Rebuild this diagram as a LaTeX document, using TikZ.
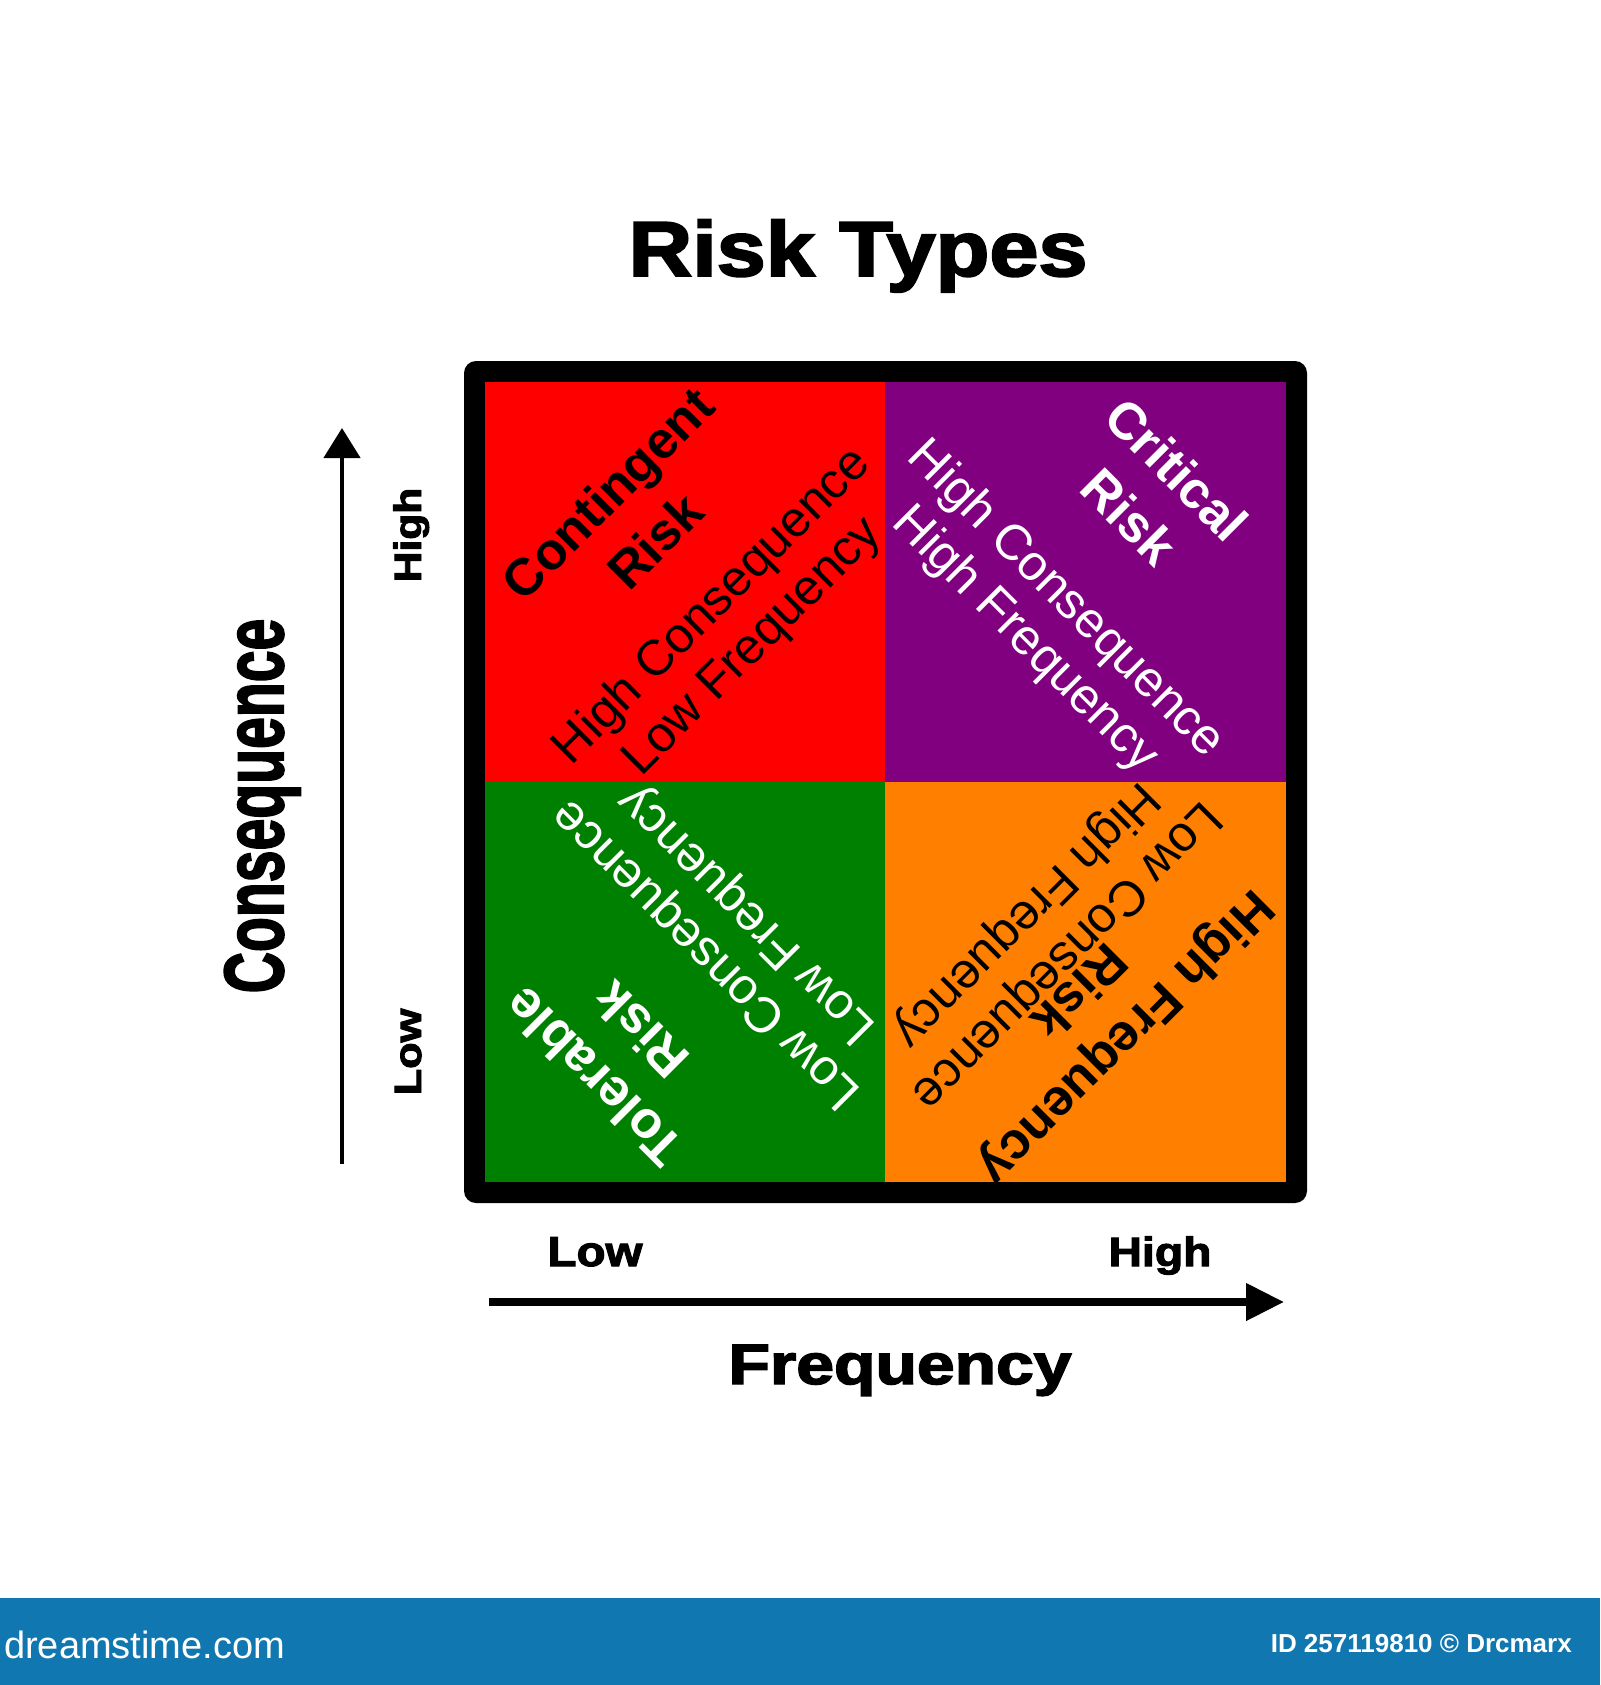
\documentclass[tikz,border=0pt]{standalone}
\usepackage{fontspec}
\usepackage{graphicx}
\setmainfont{Liberation Sans}
\newfontfamily\blackfont{Liberation Sans}[BoldFeatures={FakeBold=2.5}]
\usetikzlibrary{arrows.meta}
\definecolor{qred}{RGB}{255,0,0}
\definecolor{qpurple}{RGB}{128,0,128}
\definecolor{qgreen}{RGB}{0,128,0}
\definecolor{qorange}{RGB}{255,128,0}
\definecolor{barblue}{RGB}{17,119,176}
\newcommand{\blk}[3]{{\blackfont\bfseries\fontsize{#1}{#1}\selectfont\scalebox{#2}[1]{#3}}}
\begin{document}
\begin{tikzpicture}[x=1pt,y=-1pt,
  boldtxt/.style={font=\bfseries\fontsize{52}{67}\selectfont, align=center, inner sep=0pt},
  regtxt/.style={font=\fontsize{50}{57}\selectfont, align=center, inner sep=0pt},
  yaxis/.style={line width=4.5pt, -{Triangle[length=30pt,width=36pt]}},
  xaxis/.style={line width=7.5pt, -{Triangle[length=38pt,width=36pt]}},
  lbl/.style={inner sep=0pt, anchor=base}
]
\fill[white] (0,0) rectangle (1600,1685);
\useasboundingbox (0,0) rectangle (1600,1685);

% title
\node[lbl] (title) at (858,276) {\blk{78}{1.13}{Risk Types}};

% frame and quadrants
\fill[black, rounded corners=12pt] (464,361) rectangle (1307,1203);
\fill[qred] (485,382) rectangle (885,782);
\fill[qpurple] (885,382) rectangle (1286,782);
\fill[qgreen] (485,782) rectangle (885,1182);
\fill[qorange] (885,782) rectangle (1286,1182);

% red quadrant
\node[boldtxt, rotate=45] (contb) at (631,517) {Contingent\\Risk};
\node[regtxt, rotate=45] (contr) at (733,627) {High Consequence\\Low Frequency};
% purple quadrant
\node[boldtxt, rotate=-45, text=white] (critb) at (1153,493) {Critical\\Risk};
\node[regtxt, rotate=-45, text=white] (critr) at (1045,620) {High Consequence\\High Frequency};
% green quadrant
\node[boldtxt, rotate=135, text=white] (tolb) at (617,1054) {Tolerable\\Risk};
\node[regtxt, rotate=135, text=white] (tolr) at (728,933) {Low Consequence\\Low Frequency};
% orange quadrant
\node[boldtxt, rotate=-135] (hfb) at (1104,1016) {High Frequency\\Risk};
\node[regtxt, rotate=-135] (hfr) at (1045,934) {Low Consequence\\High Frequency};

% y axis
\coordinate (ybot) at (342,1164);
\coordinate (ytop) at (342,428);
\draw[yaxis] (ybot) -- (ytop);
\node[lbl, rotate=90] (yhigh) at (421,535) {\blk{38}{1.12}{High}};
\node[lbl, rotate=90] (ylow) at (421,1052) {\blk{38}{1.14}{Low}};
\node[lbl, rotate=90] (ytitle) at (283,806) {\blk{84}{0.68}{Consequence}};

% x axis
\coordinate (xleft) at (489,1302);
\coordinate (xright) at (1284,1302);
\draw[xaxis] (xleft) -- (xright);
\node[lbl] (xlow) at (595,1266) {\blk{42}{1.13}{Low}};
\node[lbl] (xhigh) at (1160,1266) {\blk{41}{1.13}{High}};
\node[lbl] (xtitle) at (900,1384) {\blk{57}{1.19}{Frequency}};

% footer bar
\fill[barblue] (0,1598) rectangle (1600,1685);
\node[inner sep=0pt, anchor=base west, text=white, font=\fontsize{38}{40}\selectfont] (brand) at (4,1658) {dreamstime.com};
\node[inner sep=0pt, anchor=base east, text=white, font=\bfseries\fontsize{26}{28}\selectfont] (credit) at (1572,1652) {ID 257119810 © Drcmarx};
\end{tikzpicture}
\end{document}
